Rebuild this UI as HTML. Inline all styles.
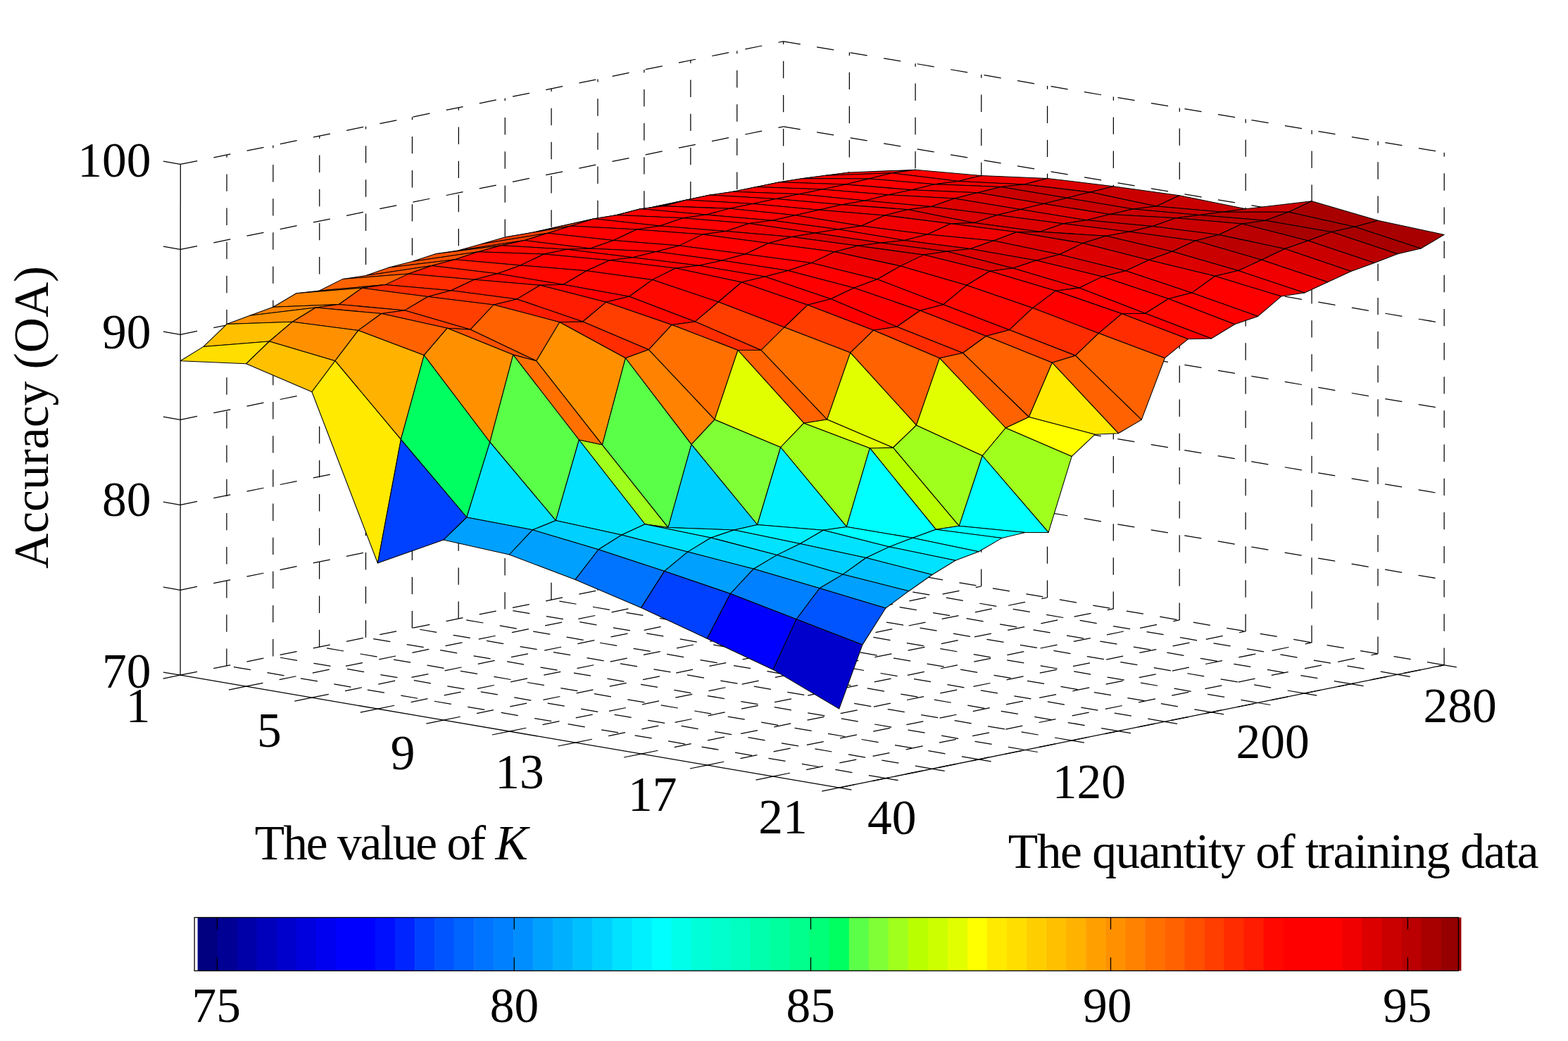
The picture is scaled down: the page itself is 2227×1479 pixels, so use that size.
<!DOCTYPE html><html><head><meta charset="utf-8"><style>html,body{margin:0;padding:0;background:#fff}svg{display:block}</style></head><body><svg width="2227" height="1479" viewBox="0 0 2227 1479">
<rect width="2227" height="1479" fill="#fff"/>
<g stroke="#000" stroke-width="1.25" fill="none" stroke-linecap="butt">
<line x1="321.9" y1="945.9" x2="322.1" y2="220.0" stroke-dasharray="24.4 23.75"/>
<line x1="387.8" y1="932.5" x2="387.9" y2="206.6" stroke-dasharray="24.4 23.75"/>
<line x1="453.6" y1="919.1" x2="453.8" y2="193.1" stroke-dasharray="24.4 23.75"/>
<line x1="519.5" y1="905.7" x2="519.6" y2="179.7" stroke-dasharray="24.4 23.75"/>
<line x1="585.4" y1="892.4" x2="585.5" y2="166.3" stroke-dasharray="24.4 23.75"/>
<line x1="651.2" y1="879.0" x2="651.4" y2="152.9" stroke-dasharray="24.4 23.75"/>
<line x1="717.1" y1="865.6" x2="717.3" y2="139.4" stroke-dasharray="24.4 23.75"/>
<line x1="783.0" y1="852.2" x2="783.1" y2="126.0" stroke-dasharray="24.4 23.75"/>
<line x1="848.9" y1="838.8" x2="849.0" y2="112.6" stroke-dasharray="24.4 23.75"/>
<line x1="914.8" y1="825.4" x2="914.9" y2="99.1" stroke-dasharray="24.4 23.75"/>
<line x1="980.7" y1="812.0" x2="980.9" y2="85.7" stroke-dasharray="24.4 23.75"/>
<line x1="1046.7" y1="798.6" x2="1046.8" y2="72.3" stroke-dasharray="24.4 23.75"/>
<line x1="1112.6" y1="785.3" x2="1112.7" y2="58.8" stroke-dasharray="24.4 23.75"/>
<line x1="256.1" y1="838.3" x2="1112.6" y2="664.2" stroke-dasharray="24.4 23.75"/>
<line x1="256.2" y1="717.3" x2="1112.6" y2="543.1" stroke-dasharray="24.4 23.75"/>
<line x1="256.2" y1="596.3" x2="1112.7" y2="422.0" stroke-dasharray="24.4 23.75"/>
<line x1="256.2" y1="475.3" x2="1112.7" y2="301.0" stroke-dasharray="24.4 23.75"/>
<line x1="256.2" y1="354.4" x2="1112.7" y2="179.9" stroke-dasharray="24.4 23.75"/>
<line x1="256.3" y1="233.4" x2="1112.7" y2="58.8" stroke-dasharray="24.4 23.75"/>
<line x1="1206.2" y1="801.2" x2="1206.4" y2="74.6" stroke-dasharray="24.4 23.75"/>
<line x1="1299.9" y1="817.1" x2="1300.1" y2="90.3" stroke-dasharray="24.4 23.75"/>
<line x1="1393.7" y1="833.0" x2="1393.8" y2="106.1" stroke-dasharray="24.4 23.75"/>
<line x1="1487.5" y1="849.0" x2="1487.6" y2="121.9" stroke-dasharray="24.4 23.75"/>
<line x1="1581.3" y1="864.9" x2="1581.4" y2="137.6" stroke-dasharray="24.4 23.75"/>
<line x1="1675.2" y1="880.9" x2="1675.3" y2="153.4" stroke-dasharray="24.4 23.75"/>
<line x1="1769.1" y1="896.9" x2="1769.2" y2="169.2" stroke-dasharray="24.4 23.75"/>
<line x1="1863.0" y1="912.9" x2="1863.1" y2="185.0" stroke-dasharray="24.4 23.75"/>
<line x1="1957.0" y1="928.8" x2="1957.1" y2="200.8" stroke-dasharray="24.4 23.75"/>
<line x1="2051.1" y1="944.8" x2="2051.2" y2="216.7" stroke-dasharray="24.4 23.75"/>
<line x1="1112.6" y1="664.2" x2="2051.1" y2="823.5" stroke-dasharray="24.4 23.75"/>
<line x1="1112.6" y1="543.1" x2="2051.1" y2="702.1" stroke-dasharray="24.4 23.75"/>
<line x1="1112.7" y1="422.0" x2="2051.1" y2="580.7" stroke-dasharray="24.4 23.75"/>
<line x1="1112.7" y1="301.0" x2="2051.2" y2="459.4" stroke-dasharray="24.4 23.75"/>
<line x1="1112.7" y1="179.9" x2="2051.2" y2="338.0" stroke-dasharray="24.4 23.75"/>
<line x1="1112.7" y1="58.8" x2="2051.2" y2="216.7" stroke-dasharray="24.4 23.75"/>
<line x1="349.5" y1="975.2" x2="1206.2" y2="801.2" stroke-dasharray="24.4 23.75"/>
<line x1="442.9" y1="991.2" x2="1299.9" y2="817.1" stroke-dasharray="24.4 23.75"/>
<line x1="536.4" y1="1007.1" x2="1393.7" y2="833.0" stroke-dasharray="24.4 23.75"/>
<line x1="629.9" y1="1023.1" x2="1487.5" y2="849.0" stroke-dasharray="24.4 23.75"/>
<line x1="723.4" y1="1039.1" x2="1581.3" y2="864.9" stroke-dasharray="24.4 23.75"/>
<line x1="817.0" y1="1055.1" x2="1675.2" y2="880.9" stroke-dasharray="24.4 23.75"/>
<line x1="910.6" y1="1071.1" x2="1769.1" y2="896.9" stroke-dasharray="24.4 23.75"/>
<line x1="1004.3" y1="1087.1" x2="1863.0" y2="912.9" stroke-dasharray="24.4 23.75"/>
<line x1="1098.0" y1="1103.1" x2="1957.0" y2="928.8" stroke-dasharray="24.4 23.75"/>
<line x1="1191.8" y1="1119.1" x2="2051.1" y2="944.8" stroke-dasharray="24.4 23.75"/>
<line x1="1257.9" y1="1105.7" x2="321.9" y2="945.9" stroke-dasharray="24.4 23.75"/>
<line x1="1323.9" y1="1092.3" x2="387.8" y2="932.5" stroke-dasharray="24.4 23.75"/>
<line x1="1390.0" y1="1078.9" x2="453.6" y2="919.1" stroke-dasharray="24.4 23.75"/>
<line x1="1456.1" y1="1065.5" x2="519.5" y2="905.7" stroke-dasharray="24.4 23.75"/>
<line x1="1522.1" y1="1052.1" x2="585.4" y2="892.4" stroke-dasharray="24.4 23.75"/>
<line x1="1588.2" y1="1038.7" x2="651.2" y2="879.0" stroke-dasharray="24.4 23.75"/>
<line x1="1654.3" y1="1025.3" x2="717.1" y2="865.6" stroke-dasharray="24.4 23.75"/>
<line x1="1720.4" y1="1011.9" x2="783.0" y2="852.2" stroke-dasharray="24.4 23.75"/>
<line x1="1786.6" y1="998.5" x2="848.9" y2="838.8" stroke-dasharray="24.4 23.75"/>
<line x1="1852.7" y1="985.1" x2="914.8" y2="825.4" stroke-dasharray="24.4 23.75"/>
<line x1="1918.8" y1="971.7" x2="980.7" y2="812.0" stroke-dasharray="24.4 23.75"/>
<line x1="1984.9" y1="958.3" x2="1046.7" y2="798.6" stroke-dasharray="24.4 23.75"/>
<line x1="2051.1" y1="944.8" x2="1112.6" y2="785.3" stroke-dasharray="24.4 23.75"/>
<line x1="256.1" y1="959.2" x2="1112.6" y2="785.3" stroke-dasharray="24.4 23.75"/>
<line x1="256.1" y1="959.2" x2="256.3" y2="233.4"/>
<line x1="256.1" y1="959.2" x2="1191.8" y2="1119.1"/>
<line x1="1191.8" y1="1119.1" x2="2051.1" y2="944.8"/>
<line x1="256.1" y1="959.2" x2="231.9" y2="955.1"/>
<line x1="256.1" y1="838.3" x2="231.9" y2="834.1"/>
<line x1="256.2" y1="717.3" x2="231.9" y2="713.1"/>
<line x1="256.2" y1="596.3" x2="231.9" y2="592.2"/>
<line x1="256.2" y1="475.3" x2="232.0" y2="471.2"/>
<line x1="256.2" y1="354.4" x2="232.0" y2="350.2"/>
<line x1="256.3" y1="233.4" x2="232.0" y2="229.2"/>
<line x1="256.1" y1="959.2" x2="231.6" y2="964.2"/>
<line x1="349.5" y1="975.2" x2="325.0" y2="980.2"/>
<line x1="442.9" y1="991.2" x2="418.4" y2="996.1"/>
<line x1="536.4" y1="1007.1" x2="511.8" y2="1012.1"/>
<line x1="629.9" y1="1023.1" x2="605.4" y2="1028.1"/>
<line x1="723.4" y1="1039.1" x2="698.9" y2="1044.0"/>
<line x1="817.0" y1="1055.1" x2="792.5" y2="1060.0"/>
<line x1="910.6" y1="1071.1" x2="886.1" y2="1076.0"/>
<line x1="1004.3" y1="1087.1" x2="979.8" y2="1092.0"/>
<line x1="1098.0" y1="1103.1" x2="1073.5" y2="1108.1"/>
<line x1="1191.8" y1="1119.1" x2="1167.3" y2="1124.1"/>
<line x1="1191.8" y1="1119.1" x2="1209.5" y2="1122.1"/>
<line x1="1257.9" y1="1105.7" x2="1275.6" y2="1108.7"/>
<line x1="1323.9" y1="1092.3" x2="1341.7" y2="1095.3"/>
<line x1="1390.0" y1="1078.9" x2="1407.7" y2="1081.9"/>
<line x1="1456.1" y1="1065.5" x2="1473.8" y2="1068.5"/>
<line x1="1522.1" y1="1052.1" x2="1539.9" y2="1055.1"/>
<line x1="1588.2" y1="1038.7" x2="1606.0" y2="1041.7"/>
<line x1="1654.3" y1="1025.3" x2="1672.1" y2="1028.3"/>
<line x1="1720.4" y1="1011.9" x2="1738.2" y2="1014.9"/>
<line x1="1786.6" y1="998.5" x2="1804.3" y2="1001.5"/>
<line x1="1852.7" y1="985.1" x2="1870.4" y2="988.1"/>
<line x1="1918.8" y1="971.7" x2="1936.5" y2="974.7"/>
<line x1="1984.9" y1="958.3" x2="2002.7" y2="961.3"/>
<line x1="2051.1" y1="944.8" x2="2068.8" y2="947.9"/>
</g>
<g stroke="#000" stroke-width="1.05" stroke-linejoin="round">
<polygon fill="#ff3e00" points="1079.7,266.5 1112.7,259.8 1206.3,245.1 1173.4,249.3"/>
<polygon fill="#ff3e00" points="1046.7,273.2 1079.7,266.5 1173.4,249.3 1140.4,253.5"/>
<polygon fill="#ff3e00" points="1013.8,279.9 1046.7,273.2 1140.4,253.5 1107.4,258.8"/>
<polygon fill="#ff3e00" points="980.8,286.6 1013.8,279.9 1107.4,258.8 1074.4,265.6"/>
<polygon fill="#ff3e00" points="947.9,293.4 980.8,286.6 1074.4,265.6 1041.5,272.3"/>
<polygon fill="#ff3e00" points="914.9,296.8 947.9,293.4 1041.5,272.3 1008.5,277.1"/>
<polygon fill="#ff3e00" points="882.0,305.6 914.9,296.8 1008.5,277.1 975.5,283.9"/>
<polygon fill="#ff3e00" points="849.0,310.8 882.0,305.6 975.5,283.9 942.6,292.8"/>
<polygon fill="#ff3e00" points="816.1,321.0 849.0,310.8 942.6,292.8 909.6,296.8"/>
<polygon fill="#ff3e00" points="783.1,324.3 816.1,321.0 909.6,296.8 876.7,305.4"/>
<polygon fill="#ff3e00" points="750.2,331.8 783.1,324.3 876.7,305.4 843.7,310.8"/>
<polygon fill="#ff3e00" points="717.2,337.0 750.2,331.8 843.7,310.8 810.7,321.1"/>
<polygon fill="#ff3e00" points="684.3,346.6 717.2,337.0 810.7,321.1 777.8,331.3"/>
<polygon fill="#ff3e00" points="651.3,355.8 684.3,346.6 777.8,331.3 744.8,341.6"/>
<polygon fill="#ff3e00" points="618.4,360.7 651.3,355.8 744.8,341.6 711.9,348.7"/>
<polygon fill="#ff5000" points="585.5,371.4 618.4,360.7 711.9,348.7 678.9,357.7"/>
<polygon fill="#ff5000" points="552.5,380.0 585.5,371.4 678.9,357.7 646.0,368.8"/>
<polygon fill="#ff5000" points="519.6,391.6 552.5,380.0 646.0,368.8 613.1,377.6"/>
<polygon fill="#ff5000" points="486.7,396.4 519.6,391.6 613.1,377.6 580.1,389.1"/>
<polygon fill="#ff6200" points="453.7,413.0 486.7,396.4 580.1,389.1 547.2,404.6"/>
<polygon fill="#ff6200" points="420.8,416.7 453.7,413.0 547.2,404.6 514.2,409.2"/>
<polygon fill="#ff8200" points="387.9,436.3 420.8,416.7 514.2,409.2 481.3,432.5"/>
<polygon fill="#ff8200" points="355.0,448.2 387.9,436.3 481.3,432.5 448.4,437.0"/>
<polygon fill="#ff9100" points="322.0,460.6 355.0,448.2 448.4,437.0 415.4,457.2"/>
<polygon fill="#ffc000" points="289.1,492.4 322.0,460.6 415.4,457.2 382.5,485.0"/>
<polygon fill="#ffde00" points="256.2,512.7 289.1,492.4 382.5,485.0 349.6,516.8"/>
<polygon fill="#ff0000" points="1173.4,249.3 1206.3,245.1 1300.0,241.2 1267.0,245.8"/>
<polygon fill="#ff0000" points="1140.4,253.5 1173.4,249.3 1267.0,245.8 1234.1,253.9"/>
<polygon fill="#ff0000" points="1107.4,258.8 1140.4,253.5 1234.1,253.9 1201.1,262.1"/>
<polygon fill="#ff0000" points="1074.4,265.6 1107.4,258.8 1201.1,262.1 1168.1,268.9"/>
<polygon fill="#ff0000" points="1041.5,272.3 1074.4,265.6 1168.1,268.9 1135.1,275.8"/>
<polygon fill="#ff0000" points="1008.5,277.1 1041.5,272.3 1135.1,275.8 1102.1,282.6"/>
<polygon fill="#ff0000" points="975.5,283.9 1008.5,277.1 1102.1,282.6 1069.2,289.5"/>
<polygon fill="#ff0000" points="942.6,292.8 975.5,283.9 1069.2,289.5 1036.2,296.3"/>
<polygon fill="#ff0000" points="909.6,296.8 942.6,292.8 1036.2,296.3 1003.2,305.1"/>
<polygon fill="#ff0000" points="876.7,305.4 909.6,296.8 1003.2,305.1 970.2,309.8"/>
<polygon fill="#ff0000" points="843.7,310.8 876.7,305.4 970.2,309.8 937.3,320.9"/>
<polygon fill="#ff0000" points="810.7,321.1 843.7,310.8 937.3,320.9 904.3,326.1"/>
<polygon fill="#ff0000" points="777.8,331.3 810.7,321.1 904.3,326.1 871.3,341.4"/>
<polygon fill="#ff0800" points="744.8,341.6 777.8,331.3 871.3,341.4 838.4,352.9"/>
<polygon fill="#ff0800" points="711.9,348.7 744.8,341.6 838.4,352.9 805.4,354.3"/>
<polygon fill="#ff0800" points="678.9,357.7 711.9,348.7 805.4,354.3 772.5,361.0"/>
<polygon fill="#ff0800" points="646.0,368.8 678.9,357.7 772.5,361.0 739.5,376.9"/>
<polygon fill="#ff1c00" points="613.1,377.6 646.0,368.8 739.5,376.9 706.5,388.7"/>
<polygon fill="#ff1c00" points="580.1,389.1 613.1,377.6 706.5,388.7 673.6,397.2"/>
<polygon fill="#ff2c00" points="547.2,404.6 580.1,389.1 673.6,397.2 640.6,412.8"/>
<polygon fill="#ff2c00" points="514.2,409.2 547.2,404.6 640.6,412.8 607.7,421.5"/>
<polygon fill="#ff5000" points="481.3,432.5 514.2,409.2 607.7,421.5 574.8,440.9"/>
<polygon fill="#ff5000" points="448.4,437.0 481.3,432.5 574.8,440.9 541.8,445.5"/>
<polygon fill="#ff7000" points="415.4,457.2 448.4,437.0 541.8,445.5 508.9,469.4"/>
<polygon fill="#ff9100" points="382.5,485.0 415.4,457.2 508.9,469.4 475.9,512.7"/>
<polygon fill="#ffc000" points="349.6,516.8 382.5,485.0 475.9,512.7 443.0,556.7"/>
<polygon fill="#ff0000" points="1267.0,245.8 1300.0,241.2 1393.8,249.4 1360.8,257.4"/>
<polygon fill="#ff0000" points="1234.1,253.9 1267.0,245.8 1360.8,257.4 1327.8,261.8"/>
<polygon fill="#ff0000" points="1201.1,262.1 1234.1,253.9 1327.8,261.8 1294.8,269.7"/>
<polygon fill="#ff0000" points="1168.1,268.9 1201.1,262.1 1294.8,269.7 1261.8,276.7"/>
<polygon fill="#ff0000" points="1135.1,275.8 1168.1,268.9 1261.8,276.7 1228.8,284.9"/>
<polygon fill="#ff0000" points="1102.1,282.6 1135.1,275.8 1228.8,284.9 1195.8,290.7"/>
<polygon fill="#ff0000" points="1069.2,289.5 1102.1,282.6 1195.8,290.7 1162.8,298.2"/>
<polygon fill="#ff0000" points="1036.2,296.3 1069.2,289.5 1162.8,298.2 1129.8,305.8"/>
<polygon fill="#ff0000" points="1003.2,305.1 1036.2,296.3 1129.8,305.8 1096.8,313.3"/>
<polygon fill="#ff0000" points="970.2,309.8 1003.2,305.1 1096.8,313.3 1063.9,317.4"/>
<polygon fill="#ff0000" points="937.3,320.9 970.2,309.8 1063.9,317.4 1030.9,328.5"/>
<polygon fill="#ff0000" points="904.3,326.1 937.3,320.9 1030.9,328.5 997.9,333.1"/>
<polygon fill="#ff0000" points="871.3,341.4 904.3,326.1 997.9,333.1 964.9,348.9"/>
<polygon fill="#ff0000" points="838.4,352.9 871.3,341.4 964.9,348.9 932.0,357.6"/>
<polygon fill="#ff0000" points="805.4,354.3 838.4,352.9 932.0,357.6 899.0,365.8"/>
<polygon fill="#ff0000" points="772.5,361.0 805.4,354.3 899.0,365.8 866.0,369.8"/>
<polygon fill="#ff0000" points="739.5,376.9 772.5,361.0 866.0,369.8 833.1,384.7"/>
<polygon fill="#ff0800" points="706.5,388.7 739.5,376.9 833.1,384.7 800.1,404.3"/>
<polygon fill="#ff0800" points="673.6,397.2 706.5,388.7 800.1,404.3 767.1,405.3"/>
<polygon fill="#ff1c00" points="640.6,412.8 673.6,397.2 767.1,405.3 734.2,424.9"/>
<polygon fill="#ff2c00" points="607.7,421.5 640.6,412.8 734.2,424.9 701.2,433.0"/>
<polygon fill="#ff3e00" points="574.8,440.9 607.7,421.5 701.2,433.0 668.2,468.2"/>
<polygon fill="#ff3e00" points="541.8,445.5 574.8,440.9 668.2,468.2 635.3,466.2"/>
<polygon fill="#ff6200" points="508.9,469.4 541.8,445.5 635.3,466.2 602.3,504.7"/>
<polygon fill="#ffb200" points="475.9,512.7 508.9,469.4 602.3,504.7 569.4,624.4"/>
<polygon fill="#ffea00" points="443.0,556.7 475.9,512.7 569.4,624.4 536.4,800.0"/>
<polygon fill="#f00000" points="1360.8,257.4 1393.8,249.4 1487.5,253.4 1454.5,261.9"/>
<polygon fill="#f00000" points="1327.8,261.8 1360.8,257.4 1454.5,261.9 1421.5,265.6"/>
<polygon fill="#f00000" points="1294.8,269.7 1327.8,261.8 1421.5,265.6 1388.5,273.8"/>
<polygon fill="#f00000" points="1261.8,276.7 1294.8,269.7 1388.5,273.8 1355.5,282.0"/>
<polygon fill="#f00000" points="1228.8,284.9 1261.8,276.7 1355.5,282.0 1322.5,293.6"/>
<polygon fill="#f00000" points="1195.8,290.7 1228.8,284.9 1322.5,293.6 1289.5,297.7"/>
<polygon fill="#f00000" points="1162.8,298.2 1195.8,290.7 1289.5,297.7 1256.5,305.9"/>
<polygon fill="#f00000" points="1129.8,305.8 1162.8,298.2 1256.5,305.9 1223.5,321.1"/>
<polygon fill="#f00000" points="1096.8,313.3 1129.8,305.8 1223.5,321.1 1190.5,325.7"/>
<polygon fill="#f00000" points="1063.9,317.4 1096.8,313.3 1190.5,325.7 1157.5,331.1"/>
<polygon fill="#f00000" points="1030.9,328.5 1063.9,317.4 1157.5,331.1 1124.6,336.5"/>
<polygon fill="#f00000" points="997.9,333.1 1030.9,328.5 1124.6,336.5 1091.6,345.6"/>
<polygon fill="#ff0000" points="964.9,348.9 997.9,333.1 1091.6,345.6 1058.6,360.9"/>
<polygon fill="#ff0000" points="932.0,357.6 964.9,348.9 1058.6,360.9 1025.6,370.0"/>
<polygon fill="#ff0000" points="899.0,365.8 932.0,357.6 1025.6,370.0 992.6,377.3"/>
<polygon fill="#ff0000" points="866.0,369.8 899.0,365.8 992.6,377.3 959.6,381.0"/>
<polygon fill="#ff0000" points="833.1,384.7 866.0,369.8 959.6,381.0 926.7,397.4"/>
<polygon fill="#ff0800" points="800.1,404.3 833.1,384.7 926.7,397.4 893.7,421.2"/>
<polygon fill="#ff0000" points="767.1,405.3 800.1,404.3 893.7,421.2 860.7,429.3"/>
<polygon fill="#ff1c00" points="734.2,424.9 767.1,405.3 860.7,429.3 827.7,457.0"/>
<polygon fill="#ff1c00" points="701.2,433.0 734.2,424.9 827.7,457.0 794.8,457.7"/>
<polygon fill="#ff6200" points="668.2,468.2 701.2,433.0 794.8,457.7 761.8,512.8"/>
<polygon fill="#ff5000" points="635.3,466.2 668.2,468.2 761.8,512.8 728.8,504.1"/>
<polygon fill="#ff9100" points="602.3,504.7 635.3,466.2 728.8,504.1 695.8,628.2"/>
<polygon fill="#00ff60" points="569.4,624.4 602.3,504.7 695.8,628.2 662.9,735.0"/>
<polygon fill="#0040ff" points="536.4,800.0 569.4,624.4 662.9,735.0 629.9,767.1"/>
<polygon fill="#dc0000" points="1454.5,261.9 1487.5,253.4 1581.4,264.8 1548.4,273.0"/>
<polygon fill="#ca0000" points="1421.5,265.6 1454.5,261.9 1548.4,273.0 1515.3,281.2"/>
<polygon fill="#ca0000" points="1388.5,273.8 1421.5,265.6 1515.3,281.2 1482.3,289.4"/>
<polygon fill="#dc0000" points="1355.5,282.0 1388.5,273.8 1482.3,289.4 1449.3,297.5"/>
<polygon fill="#dc0000" points="1322.5,293.6 1355.5,282.0 1449.3,297.5 1416.3,305.5"/>
<polygon fill="#dc0000" points="1289.5,297.7 1322.5,293.6 1416.3,305.5 1383.3,316.4"/>
<polygon fill="#dc0000" points="1256.5,305.9 1289.5,297.7 1383.3,316.4 1350.3,317.7"/>
<polygon fill="#f00000" points="1223.5,321.1 1256.5,305.9 1350.3,317.7 1317.3,332.9"/>
<polygon fill="#f00000" points="1190.5,325.7 1223.5,321.1 1317.3,332.9 1284.3,341.4"/>
<polygon fill="#f00000" points="1157.5,331.1 1190.5,325.7 1284.3,341.4 1251.3,345.0"/>
<polygon fill="#dc0000" points="1124.6,336.5 1157.5,331.1 1251.3,345.0 1218.3,349.3"/>
<polygon fill="#f00000" points="1091.6,345.6 1124.6,336.5 1218.3,349.3 1185.3,357.8"/>
<polygon fill="#ff0000" points="1058.6,360.9 1091.6,345.6 1185.3,357.8 1152.3,373.6"/>
<polygon fill="#ff0000" points="1025.6,370.0 1058.6,360.9 1152.3,373.6 1119.3,384.6"/>
<polygon fill="#ff0000" points="992.6,377.3 1025.6,370.0 1119.3,384.6 1086.3,393.1"/>
<polygon fill="#ff0000" points="959.6,381.0 992.6,377.3 1086.3,393.1 1053.3,401.0"/>
<polygon fill="#ff0000" points="926.7,397.4 959.6,381.0 1053.3,401.0 1020.3,429.0"/>
<polygon fill="#ff0800" points="893.7,421.2 926.7,397.4 1020.3,429.0 987.3,456.9"/>
<polygon fill="#ff0800" points="860.7,429.3 893.7,421.2 987.3,456.9 954.3,461.4"/>
<polygon fill="#ff3e00" points="827.7,457.0 860.7,429.3 954.3,461.4 921.3,496.8"/>
<polygon fill="#ff2c00" points="794.8,457.7 827.7,457.0 921.3,496.8 888.4,508.7"/>
<polygon fill="#ff9100" points="761.8,512.8 794.8,457.7 888.4,508.7 855.4,632.1"/>
<polygon fill="#ff7000" points="728.8,504.1 761.8,512.8 855.4,632.1 822.4,625.0"/>
<polygon fill="#5aff48" points="695.8,628.2 728.8,504.1 822.4,625.0 789.4,739.6"/>
<polygon fill="#00e2ff" points="662.9,735.0 695.8,628.2 789.4,739.6 756.4,752.8"/>
<polygon fill="#00a0ff" points="629.9,767.1 662.9,735.0 756.4,752.8 723.4,788.0"/>
<polygon fill="#ca0000" points="1548.4,273.0 1581.4,264.8 1675.2,277.7 1642.2,292.9"/>
<polygon fill="#ca0000" points="1515.3,281.2 1548.4,273.0 1642.2,292.9 1609.2,297.0"/>
<polygon fill="#ca0000" points="1482.3,289.4 1515.3,281.2 1609.2,297.0 1576.2,304.5"/>
<polygon fill="#dc0000" points="1449.3,297.5 1482.3,289.4 1576.2,304.5 1543.1,312.8"/>
<polygon fill="#dc0000" points="1416.3,305.5 1449.3,297.5 1543.1,312.8 1510.1,317.7"/>
<polygon fill="#dc0000" points="1383.3,316.4 1416.3,305.5 1510.1,317.7 1477.1,329.2"/>
<polygon fill="#dc0000" points="1350.3,317.7 1383.3,316.4 1477.1,329.2 1444.1,329.8"/>
<polygon fill="#f00000" points="1317.3,332.9 1350.3,317.7 1444.1,329.8 1411.1,342.0"/>
<polygon fill="#f00000" points="1284.3,341.4 1317.3,332.9 1411.1,342.0 1378.0,353.6"/>
<polygon fill="#dc0000" points="1251.3,345.0 1284.3,341.4 1378.0,353.6 1345.0,357.2"/>
<polygon fill="#dc0000" points="1218.3,349.3 1251.3,345.0 1345.0,357.2 1312.0,362.1"/>
<polygon fill="#dc0000" points="1185.3,357.8 1218.3,349.3 1312.0,362.1 1279.0,377.9"/>
<polygon fill="#f00000" points="1152.3,373.6 1185.3,357.8 1279.0,377.9 1246.0,396.8"/>
<polygon fill="#ff0000" points="1119.3,384.6 1152.3,373.6 1246.0,396.8 1213.0,409.0"/>
<polygon fill="#ff0000" points="1086.3,393.1 1119.3,384.6 1213.0,409.0 1180.0,424.8"/>
<polygon fill="#ff0000" points="1053.3,401.0 1086.3,393.1 1180.0,424.8 1147.0,433.3"/>
<polygon fill="#ff0800" points="1020.3,429.0 1053.3,401.0 1147.0,433.3 1114.0,465.0"/>
<polygon fill="#ff3e00" points="987.3,456.9 1020.3,429.0 1114.0,465.0 1081.0,497.5"/>
<polygon fill="#ff2c00" points="954.3,461.4 987.3,456.9 1081.0,497.5 1048.0,497.5"/>
<polygon fill="#ff7000" points="921.3,496.8 954.3,461.4 1048.0,497.5 1015.0,596.2"/>
<polygon fill="#ff8200" points="888.4,508.7 921.3,496.8 1015.0,596.2 982.0,631.4"/>
<polygon fill="#5aff48" points="855.4,632.1 888.4,508.7 982.0,631.4 949.0,749.6"/>
<polygon fill="#a0ff1c" points="822.4,625.0 855.4,632.1 949.0,749.6 916.0,744.7"/>
<polygon fill="#00e2ff" points="789.4,739.6 822.4,625.0 916.0,744.7 883.0,760.0"/>
<polygon fill="#00d0ff" points="756.4,752.8 789.4,739.6 883.0,760.0 850.0,780.8"/>
<polygon fill="#00a0ff" points="723.4,788.0 756.4,752.8 850.0,780.8 817.0,823.6"/>
<polygon fill="#ca0000" points="1642.2,292.9 1675.2,277.7 1769.2,296.7 1736.1,301.2"/>
<polygon fill="#ca0000" points="1609.2,297.0 1642.2,292.9 1736.1,301.2 1703.1,305.6"/>
<polygon fill="#ca0000" points="1576.2,304.5 1609.2,297.0 1703.1,305.6 1670.0,309.8"/>
<polygon fill="#ca0000" points="1543.1,312.8 1576.2,304.5 1670.0,309.8 1637.0,321.4"/>
<polygon fill="#ca0000" points="1510.1,317.7 1543.1,312.8 1637.0,321.4 1604.0,329.3"/>
<polygon fill="#dc0000" points="1477.1,329.2 1510.1,317.7 1604.0,329.3 1570.9,335.3"/>
<polygon fill="#ca0000" points="1444.1,329.8 1477.1,329.2 1570.9,335.3 1537.9,345.6"/>
<polygon fill="#dc0000" points="1411.1,342.0 1444.1,329.8 1537.9,345.6 1504.9,361.5"/>
<polygon fill="#dc0000" points="1378.0,353.6 1411.1,342.0 1504.9,361.5 1471.9,370.0"/>
<polygon fill="#dc0000" points="1345.0,357.2 1378.0,353.6 1471.9,370.0 1438.8,381.0"/>
<polygon fill="#dc0000" points="1312.0,362.1 1345.0,357.2 1438.8,381.0 1405.8,385.2"/>
<polygon fill="#f00000" points="1279.0,377.9 1312.0,362.1 1405.8,385.2 1372.8,405.3"/>
<polygon fill="#ff0000" points="1246.0,396.8 1279.0,377.9 1372.8,405.3 1339.8,432.7"/>
<polygon fill="#ff0000" points="1213.0,409.0 1246.0,396.8 1339.8,432.7 1306.7,441.2"/>
<polygon fill="#ff0000" points="1180.0,424.8 1213.0,409.0 1306.7,441.2 1273.7,464.2"/>
<polygon fill="#ff0000" points="1147.0,433.3 1180.0,424.8 1273.7,464.2 1240.7,469.2"/>
<polygon fill="#ff3e00" points="1114.0,465.0 1147.0,433.3 1240.7,469.2 1207.7,501.1"/>
<polygon fill="#ff7000" points="1081.0,497.5 1114.0,465.0 1207.7,501.1 1174.7,596.1"/>
<polygon fill="#ff6200" points="1048.0,497.5 1081.0,497.5 1174.7,596.1 1141.7,601.2"/>
<polygon fill="#e2ff00" points="1015.0,596.2 1048.0,497.5 1141.7,601.2 1108.7,635.5"/>
<polygon fill="#80ff36" points="982.0,631.4 1015.0,596.2 1108.7,635.5 1075.7,745.5"/>
<polygon fill="#00d0ff" points="949.0,749.6 982.0,631.4 1075.7,745.5 1042.7,752.9"/>
<polygon fill="#00f0ff" points="916.0,744.7 949.0,749.6 1042.7,752.9 1009.7,764.0"/>
<polygon fill="#00e2ff" points="883.0,760.0 916.0,744.7 1009.7,764.0 976.7,784.1"/>
<polygon fill="#00c0ff" points="850.0,780.8 883.0,760.0 976.7,784.1 943.7,811.4"/>
<polygon fill="#0074ff" points="817.0,823.6 850.0,780.8 943.7,811.4 910.7,863.4"/>
<polygon fill="#ca0000" points="1736.1,301.2 1769.2,296.7 1863.1,285.7 1830.1,301.3"/>
<polygon fill="#ba0000" points="1703.1,305.6 1736.1,301.2 1830.1,301.3 1797.0,313.2"/>
<polygon fill="#ba0000" points="1670.0,309.8 1703.1,305.6 1797.0,313.2 1764.0,318.0"/>
<polygon fill="#ca0000" points="1637.0,321.4 1670.0,309.8 1764.0,318.0 1730.9,333.4"/>
<polygon fill="#ca0000" points="1604.0,329.3 1637.0,321.4 1730.9,333.4 1697.9,341.9"/>
<polygon fill="#ca0000" points="1570.9,335.3 1604.0,329.3 1697.9,341.9 1664.8,357.3"/>
<polygon fill="#ca0000" points="1537.9,345.6 1570.9,335.3 1664.8,357.3 1631.8,369.5"/>
<polygon fill="#dc0000" points="1504.9,361.5 1537.9,345.6 1631.8,369.5 1598.8,384.7"/>
<polygon fill="#dc0000" points="1471.9,370.0 1504.9,361.5 1598.8,384.7 1565.7,393.1"/>
<polygon fill="#f00000" points="1438.8,381.0 1471.9,370.0 1565.7,393.1 1532.7,409.0"/>
<polygon fill="#f00000" points="1405.8,385.2 1438.8,381.0 1532.7,409.0 1499.6,413.2"/>
<polygon fill="#ff0000" points="1372.8,405.3 1405.8,385.2 1499.6,413.2 1466.6,437.6"/>
<polygon fill="#ff0800" points="1339.8,432.7 1372.8,405.3 1466.6,437.6 1433.6,468.7"/>
<polygon fill="#ff0800" points="1306.7,441.2 1339.8,432.7 1433.6,468.7 1400.6,477.5"/>
<polygon fill="#ff2c00" points="1273.7,464.2 1306.7,441.2 1400.6,477.5 1367.5,501.5"/>
<polygon fill="#ff2c00" points="1240.7,469.2 1273.7,464.2 1367.5,501.5 1334.5,508.8"/>
<polygon fill="#ff6200" points="1207.7,501.1 1240.7,469.2 1334.5,508.8 1301.5,604.2"/>
<polygon fill="#e2ff00" points="1174.7,596.1 1207.7,501.1 1301.5,604.2 1268.4,636.0"/>
<polygon fill="#e2ff00" points="1141.7,601.2 1174.7,596.1 1268.4,636.0 1235.4,636.7"/>
<polygon fill="#a0ff1c" points="1108.7,635.5 1141.7,601.2 1235.4,636.7 1202.4,748.4"/>
<polygon fill="#00f0ff" points="1075.7,745.5 1108.7,635.5 1202.4,748.4 1169.4,753.3"/>
<polygon fill="#00f0ff" points="1042.7,752.9 1075.7,745.5 1169.4,753.3 1136.4,772.5"/>
<polygon fill="#00e2ff" points="1009.7,764.0 1042.7,752.9 1136.4,772.5 1103.4,788.6"/>
<polygon fill="#00d0ff" points="976.7,784.1 1009.7,764.0 1103.4,788.6 1070.4,808.2"/>
<polygon fill="#00a0ff" points="943.7,811.4 976.7,784.1 1070.4,808.2 1037.4,843.5"/>
<polygon fill="#0040ff" points="910.7,863.4 943.7,811.4 1037.4,843.5 1004.3,907.3"/>
<polygon fill="#a80000" points="1830.1,301.3 1863.1,285.7 1957.1,313.2 1924.1,322.3"/>
<polygon fill="#a80000" points="1797.0,313.2 1830.1,301.3 1924.1,322.3 1891.0,329.6"/>
<polygon fill="#a80000" points="1764.0,318.0 1797.0,313.2 1891.0,329.6 1857.9,341.9"/>
<polygon fill="#ba0000" points="1730.9,333.4 1764.0,318.0 1857.9,341.9 1824.9,353.5"/>
<polygon fill="#ba0000" points="1697.9,341.9 1730.9,333.4 1824.9,353.5 1791.8,369.2"/>
<polygon fill="#ca0000" points="1664.8,357.3 1697.9,341.9 1791.8,369.2 1758.8,384.6"/>
<polygon fill="#dc0000" points="1631.8,369.5 1664.8,357.3 1758.8,384.6 1725.7,392.3"/>
<polygon fill="#f00000" points="1598.8,384.7 1631.8,369.5 1725.7,392.3 1692.7,416.1"/>
<polygon fill="#f00000" points="1565.7,393.1 1598.8,384.7 1692.7,416.1 1659.6,424.5"/>
<polygon fill="#ff0000" points="1532.7,409.0 1565.7,393.1 1659.6,424.5 1626.6,445.3"/>
<polygon fill="#ff0000" points="1499.6,413.2 1532.7,409.0 1626.6,445.3 1593.5,445.7"/>
<polygon fill="#ff0000" points="1466.6,437.6 1499.6,413.2 1593.5,445.7 1560.5,473.4"/>
<polygon fill="#ff2c00" points="1433.6,468.7 1466.6,437.6 1560.5,473.4 1527.4,505.2"/>
<polygon fill="#ff3e00" points="1400.6,477.5 1433.6,468.7 1527.4,505.2 1494.4,515.3"/>
<polygon fill="#ff6200" points="1367.5,501.5 1400.6,477.5 1494.4,515.3 1461.4,592.5"/>
<polygon fill="#ff6200" points="1334.5,508.8 1367.5,501.5 1461.4,592.5 1428.3,608.0"/>
<polygon fill="#e2ff00" points="1301.5,604.2 1334.5,508.8 1428.3,608.0 1395.3,647.5"/>
<polygon fill="#a0ff1c" points="1268.4,636.0 1301.5,604.2 1395.3,647.5 1362.2,747.3"/>
<polygon fill="#baff00" points="1235.4,636.7 1268.4,636.0 1362.2,747.3 1329.2,752.2"/>
<polygon fill="#00ffff" points="1202.4,748.4 1235.4,636.7 1329.2,752.2 1296.2,764.3"/>
<polygon fill="#00ffff" points="1169.4,753.3 1202.4,748.4 1296.2,764.3 1263.2,776.9"/>
<polygon fill="#00e2ff" points="1136.4,772.5 1169.4,753.3 1263.2,776.9 1230.1,792.5"/>
<polygon fill="#00d0ff" points="1103.4,788.6 1136.4,772.5 1230.1,792.5 1197.1,816.1"/>
<polygon fill="#00c0ff" points="1070.4,808.2 1103.4,788.6 1197.1,816.1 1164.1,835.7"/>
<polygon fill="#0080ff" points="1037.4,843.5 1070.4,808.2 1164.1,835.7 1131.1,879.8"/>
<polygon fill="#0000ff" points="1004.3,907.3 1037.4,843.5 1131.1,879.8 1098.1,951.4"/>
<polygon fill="#a80000" points="1924.1,322.3 1957.1,313.2 2051.2,333.4 2018.1,353.0"/>
<polygon fill="#a80000" points="1891.0,329.6 1924.1,322.3 2018.1,353.0 1985.0,360.7"/>
<polygon fill="#ba0000" points="1857.9,341.9 1891.0,329.6 1985.0,360.7 1952.0,373.5"/>
<polygon fill="#ca0000" points="1824.9,353.5 1857.9,341.9 1952.0,373.5 1918.9,385.4"/>
<polygon fill="#dc0000" points="1791.8,369.2 1824.9,353.5 1918.9,385.4 1885.8,400.8"/>
<polygon fill="#f00000" points="1758.8,384.6 1791.8,369.2 1885.8,400.8 1852.8,416.1"/>
<polygon fill="#f00000" points="1725.7,392.3 1758.8,384.6 1852.8,416.1 1819.7,421.1"/>
<polygon fill="#ff0000" points="1692.7,416.1 1725.7,392.3 1819.7,421.1 1786.6,449.4"/>
<polygon fill="#ff0000" points="1659.6,424.5 1692.7,416.1 1786.6,449.4 1753.6,460.8"/>
<polygon fill="#ff0800" points="1626.6,445.3 1659.6,424.5 1753.6,460.8 1720.5,481.0"/>
<polygon fill="#ff0000" points="1593.5,445.7 1626.6,445.3 1720.5,481.0 1687.5,481.7"/>
<polygon fill="#ff2c00" points="1560.5,473.4 1593.5,445.7 1687.5,481.7 1654.4,508.7"/>
<polygon fill="#ff6200" points="1527.4,505.2 1560.5,473.4 1654.4,508.7 1621.3,596.4"/>
<polygon fill="#ff6200" points="1494.4,515.3 1527.4,505.2 1621.3,596.4 1588.3,615.7"/>
<polygon fill="#ffea00" points="1461.4,592.5 1494.4,515.3 1588.3,615.7 1555.2,617.2"/>
<polygon fill="#ffff00" points="1428.3,608.0 1461.4,592.5 1555.2,617.2 1522.2,648.4"/>
<polygon fill="#a0ff1c" points="1395.3,647.5 1428.3,608.0 1522.2,648.4 1489.1,756.4"/>
<polygon fill="#00ffff" points="1362.2,747.3 1395.3,647.5 1489.1,756.4 1456.1,756.4"/>
<polygon fill="#00ffff" points="1329.2,752.2 1362.2,747.3 1456.1,756.4 1423.1,764.4"/>
<polygon fill="#00ffff" points="1296.2,764.3 1329.2,752.2 1423.1,764.4 1390.0,783.7"/>
<polygon fill="#00f0ff" points="1263.2,776.9 1296.2,764.3 1390.0,783.7 1357.0,796.2"/>
<polygon fill="#00e2ff" points="1230.1,792.5 1263.2,776.9 1357.0,796.2 1324.0,816.5"/>
<polygon fill="#00c0ff" points="1197.1,816.1 1230.1,792.5 1324.0,816.5 1290.9,839.7"/>
<polygon fill="#00a0ff" points="1164.1,835.7 1197.1,816.1 1290.9,839.7 1257.9,864.0"/>
<polygon fill="#0054ff" points="1131.1,879.8 1164.1,835.7 1257.9,864.0 1224.9,916.1"/>
<polygon fill="#0000cd" points="1098.1,951.4 1131.1,879.8 1224.9,916.1 1191.8,1007.1"/>
</g>
<g>
<rect x="280.7" y="1303.5" width="28.6" height="75.8" fill="#000080"/>
<rect x="308.7" y="1303.5" width="28.6" height="75.8" fill="#000094"/>
<rect x="336.8" y="1303.5" width="28.6" height="75.8" fill="#0000a8"/>
<rect x="364.8" y="1303.5" width="28.6" height="75.8" fill="#0000bc"/>
<rect x="392.8" y="1303.5" width="28.6" height="75.8" fill="#0000cd"/>
<rect x="420.9" y="1303.5" width="28.6" height="75.8" fill="#0000de"/>
<rect x="448.9" y="1303.5" width="28.6" height="75.8" fill="#0000f0"/>
<rect x="476.9" y="1303.5" width="28.6" height="75.8" fill="#0000ff"/>
<rect x="505.0" y="1303.5" width="28.6" height="75.8" fill="#0000ff"/>
<rect x="533.0" y="1303.5" width="28.6" height="75.8" fill="#0010ff"/>
<rect x="561.0" y="1303.5" width="28.6" height="75.8" fill="#0024ff"/>
<rect x="589.1" y="1303.5" width="28.6" height="75.8" fill="#0040ff"/>
<rect x="617.1" y="1303.5" width="28.6" height="75.8" fill="#0054ff"/>
<rect x="645.1" y="1303.5" width="28.6" height="75.8" fill="#0064ff"/>
<rect x="673.2" y="1303.5" width="28.6" height="75.8" fill="#0074ff"/>
<rect x="701.2" y="1303.5" width="28.6" height="75.8" fill="#0080ff"/>
<rect x="729.2" y="1303.5" width="28.6" height="75.8" fill="#008eff"/>
<rect x="757.3" y="1303.5" width="28.6" height="75.8" fill="#00a0ff"/>
<rect x="785.3" y="1303.5" width="28.6" height="75.8" fill="#00b0ff"/>
<rect x="813.3" y="1303.5" width="28.6" height="75.8" fill="#00c0ff"/>
<rect x="841.4" y="1303.5" width="28.6" height="75.8" fill="#00d0ff"/>
<rect x="869.4" y="1303.5" width="28.6" height="75.8" fill="#00e2ff"/>
<rect x="897.4" y="1303.5" width="28.6" height="75.8" fill="#00f0ff"/>
<rect x="925.5" y="1303.5" width="28.6" height="75.8" fill="#00ffff"/>
<rect x="953.5" y="1303.5" width="28.6" height="75.8" fill="#00ffeb"/>
<rect x="981.5" y="1303.5" width="28.6" height="75.8" fill="#00ffd8"/>
<rect x="1009.6" y="1303.5" width="28.6" height="75.8" fill="#00ffcc"/>
<rect x="1037.6" y="1303.5" width="28.6" height="75.8" fill="#00ffc0"/>
<rect x="1065.6" y="1303.5" width="28.6" height="75.8" fill="#00ffac"/>
<rect x="1093.7" y="1303.5" width="28.6" height="75.8" fill="#00ff9e"/>
<rect x="1121.7" y="1303.5" width="28.6" height="75.8" fill="#00ff8c"/>
<rect x="1149.7" y="1303.5" width="28.6" height="75.8" fill="#00ff78"/>
<rect x="1177.8" y="1303.5" width="28.6" height="75.8" fill="#00ff60"/>
<rect x="1205.8" y="1303.5" width="28.6" height="75.8" fill="#5aff48"/>
<rect x="1233.8" y="1303.5" width="28.6" height="75.8" fill="#80ff36"/>
<rect x="1261.8" y="1303.5" width="28.6" height="75.8" fill="#a0ff1c"/>
<rect x="1289.9" y="1303.5" width="28.6" height="75.8" fill="#baff00"/>
<rect x="1317.9" y="1303.5" width="28.6" height="75.8" fill="#ccff00"/>
<rect x="1345.9" y="1303.5" width="28.6" height="75.8" fill="#e2ff00"/>
<rect x="1374.0" y="1303.5" width="28.6" height="75.8" fill="#ffff00"/>
<rect x="1402.0" y="1303.5" width="28.6" height="75.8" fill="#ffea00"/>
<rect x="1430.0" y="1303.5" width="28.6" height="75.8" fill="#ffde00"/>
<rect x="1458.1" y="1303.5" width="28.6" height="75.8" fill="#ffce00"/>
<rect x="1486.1" y="1303.5" width="28.6" height="75.8" fill="#ffc000"/>
<rect x="1514.1" y="1303.5" width="28.6" height="75.8" fill="#ffb200"/>
<rect x="1542.2" y="1303.5" width="28.6" height="75.8" fill="#ffa000"/>
<rect x="1570.2" y="1303.5" width="28.6" height="75.8" fill="#ff9100"/>
<rect x="1598.2" y="1303.5" width="28.6" height="75.8" fill="#ff8200"/>
<rect x="1626.3" y="1303.5" width="28.6" height="75.8" fill="#ff7000"/>
<rect x="1654.3" y="1303.5" width="28.6" height="75.8" fill="#ff6200"/>
<rect x="1682.3" y="1303.5" width="28.6" height="75.8" fill="#ff5000"/>
<rect x="1710.4" y="1303.5" width="28.6" height="75.8" fill="#ff3e00"/>
<rect x="1738.4" y="1303.5" width="28.6" height="75.8" fill="#ff2c00"/>
<rect x="1766.4" y="1303.5" width="28.6" height="75.8" fill="#ff1c00"/>
<rect x="1794.5" y="1303.5" width="28.6" height="75.8" fill="#ff0800"/>
<rect x="1822.5" y="1303.5" width="28.6" height="75.8" fill="#ff0000"/>
<rect x="1850.5" y="1303.5" width="28.6" height="75.8" fill="#ff0000"/>
<rect x="1878.6" y="1303.5" width="28.6" height="75.8" fill="#ff0000"/>
<rect x="1906.6" y="1303.5" width="28.6" height="75.8" fill="#f00000"/>
<rect x="1934.6" y="1303.5" width="28.6" height="75.8" fill="#dc0000"/>
<rect x="1962.7" y="1303.5" width="28.6" height="75.8" fill="#ca0000"/>
<rect x="1990.7" y="1303.5" width="28.6" height="75.8" fill="#ba0000"/>
<rect x="2018.7" y="1303.5" width="28.6" height="75.8" fill="#a80000"/>
<rect x="2046.8" y="1303.5" width="28.6" height="75.8" fill="#960000"/>
<rect x="276.2" y="1303.5" width="1795.1" height="75.8" fill="none" stroke="#000" stroke-width="1.3"/>
<line x1="308.5" y1="1303.5" x2="308.5" y2="1320.5" stroke="#000" stroke-width="1.3"/>
<line x1="308.5" y1="1360.3" x2="308.5" y2="1379.3" stroke="#000" stroke-width="1.3"/>
<line x1="730.3" y1="1303.5" x2="730.3" y2="1320.5" stroke="#000" stroke-width="1.3"/>
<line x1="730.3" y1="1360.3" x2="730.3" y2="1379.3" stroke="#000" stroke-width="1.3"/>
<line x1="1151.5" y1="1303.5" x2="1151.5" y2="1320.5" stroke="#000" stroke-width="1.3"/>
<line x1="1151.5" y1="1360.3" x2="1151.5" y2="1379.3" stroke="#000" stroke-width="1.3"/>
<line x1="1577.5" y1="1303.5" x2="1577.5" y2="1320.5" stroke="#000" stroke-width="1.3"/>
<line x1="1577.5" y1="1360.3" x2="1577.5" y2="1379.3" stroke="#000" stroke-width="1.3"/>
<line x1="1999.4" y1="1303.5" x2="1999.4" y2="1320.5" stroke="#000" stroke-width="1.3"/>
<line x1="1999.4" y1="1360.3" x2="1999.4" y2="1379.3" stroke="#000" stroke-width="1.3"/>
</g>
<g font-family="Liberation Serif, Times New Roman, serif" font-size="69.5" fill="#000">
<text x="214.5" y="250.9" text-anchor="end">100</text>
<text x="214.5" y="494.5" text-anchor="end">90</text>
<text x="214.5" y="733.4" text-anchor="end">80</text>
<text x="214.5" y="977.2" text-anchor="end">70</text>
<text x="213.6" y="1026.2" text-anchor="end">1</text>
<text x="399.8" y="1060.8" text-anchor="end">5</text>
<text x="589.5" y="1092.9" text-anchor="end">9</text>
<text x="772.8" y="1120.0" text-anchor="end">13</text>
<text x="961.4" y="1152.2" text-anchor="end">17</text>
<text x="1146.7" y="1184.3" text-anchor="end">21</text>
<text x="1232.0" y="1185.1" text-anchor="start">40</text>
<text x="1494.8" y="1133.5" text-anchor="start">120</text>
<text x="1755.4" y="1077.4" text-anchor="start">200</text>
<text x="2021.4" y="1025.7" text-anchor="start">280</text>
<text x="361.8" y="1220.8" text-anchor="start" textLength="388" lengthAdjust="spacing">The value of <tspan font-style="italic">K</tspan></text>
<text x="1431.7" y="1232.5" text-anchor="start" textLength="754" lengthAdjust="spacing">The quantity of training data</text>
<text x="0.0" y="0.0" text-anchor="start" transform="translate(67.7,808) rotate(-90)">Accuracy (OA)</text>
<text x="272.6" y="1451.7" text-anchor="start">75</text>
<text x="695.8" y="1451.7" text-anchor="start">80</text>
<text x="1116.5" y="1451.7" text-anchor="start">85</text>
<text x="1538.0" y="1451.7" text-anchor="start">90</text>
<text x="1963.9" y="1451.7" text-anchor="start">95</text>
</g>
</svg></body></html>
